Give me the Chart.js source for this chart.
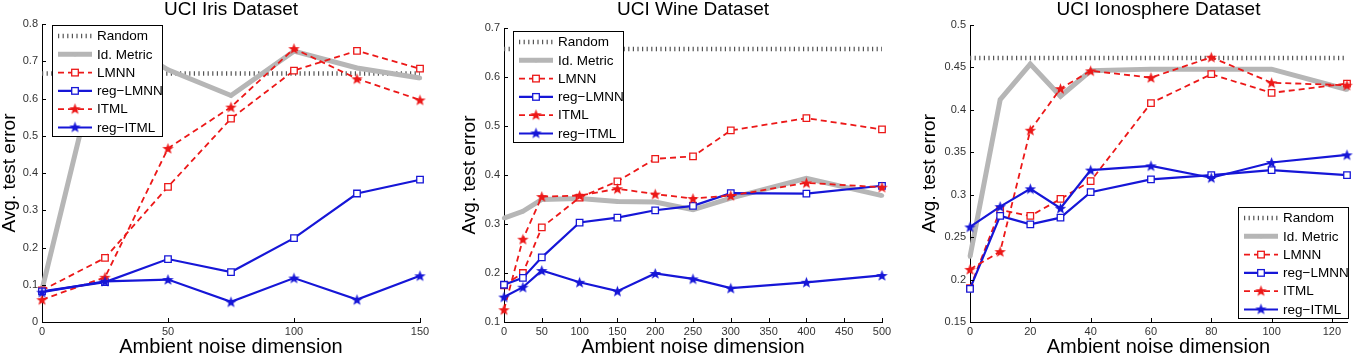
<!DOCTYPE html>
<html>
<head>
<meta charset="utf-8">
<script src="https://cdn.jsdelivr.net/npm/chart.js@4.4.1/dist/chart.umd.min.js"></script>
<style>
  body { margin: 0; background: #fff; width: 1354px; height: 357px; overflow: hidden; position: relative; }
  canvas { position: absolute; top: 0; }
</style>
</head>
<body>
<canvas id="iris" width="450" height="357" style="left:0px"></canvas>
<canvas id="wine" width="445" height="357" style="left:460px"></canvas>
<canvas id="iono" width="434" height="357" style="left:920px"></canvas>
<script>
// series names, same order in all three panels
var seriesNames = ['Random', 'Id. Metric', 'LMNN', 'reg\u2212LMNN', 'ITML', 'reg\u2212ITML'];

// UCI Iris
var irisX        = [0, 25, 50, 75, 100, 125, 150];
var irisRandom   = [0.667, 0.667, 0.667, 0.667, 0.667, 0.667, 0.667];
var irisIdMetric = [0.087, 0.78, 0.677, 0.608, 0.727, 0.682, 0.655];
var irisLMNN     = [0.085, 0.172, 0.363, 0.546, 0.675, 0.728, 0.68];
var irisRegLMNN  = [0.082, 0.107, 0.169, 0.134, 0.225, 0.345, 0.382];
var irisITML     = [0.06, 0.12, 0.466, 0.577, 0.734, 0.653, 0.596];
var irisRegITML  = [0.08, 0.109, 0.114, 0.054, 0.118, 0.06, 0.124];

// UCI Wine
var wineX        = [0, 25, 50, 100, 150, 200, 250, 300, 400, 500];
var wineRandom   = [0.657, 0.657, 0.657, 0.657, 0.657, 0.657, 0.657, 0.657, 0.657, 0.657];
var wineIdMetric = [0.312, 0.326, 0.35, 0.352, 0.346, 0.345, 0.329, 0.353, 0.393, 0.358];
var wineLMNN     = [0.175, 0.2, 0.293, 0.354, 0.387, 0.433, 0.438, 0.491, 0.516, 0.493];
var wineRegLMNN  = [0.176, 0.19, 0.232, 0.303, 0.313, 0.328, 0.337, 0.363, 0.362, 0.378];
var wineITML     = [0.125, 0.269, 0.356, 0.358, 0.372, 0.361, 0.352, 0.358, 0.384, 0.375];
var wineRegITML  = [0.151, 0.171, 0.205, 0.181, 0.163, 0.199, 0.188, 0.169, 0.181, 0.195];

// UCI Ionosphere
var ionoX        = [0, 10, 20, 30, 40, 60, 80, 100, 125];
var ionoRandom   = [0.461, 0.461, 0.461, 0.461, 0.461, 0.461, 0.461, 0.461, 0.461];
var ionoIdMetric = [0.227, 0.412, 0.454, 0.416, 0.446, 0.448, 0.448, 0.448, 0.424];
var ionoLMNN     = [0.19, 0.282, 0.275, 0.295, 0.316, 0.408, 0.442, 0.42, 0.431];
var ionoRegLMNN  = [0.189, 0.275, 0.265, 0.273, 0.303, 0.318, 0.323, 0.329, 0.323];
var ionoITML     = [0.212, 0.233, 0.376, 0.425, 0.446, 0.438, 0.462, 0.432, 0.429];
var ionoRegITML  = [0.262, 0.286, 0.307, 0.284, 0.329, 0.334, 0.32, 0.338, 0.347];
var ionoXTicks   = [0, 20, 40, 60, 80, 100, 120];

var FONT = "'Liberation Sans', Arial, Helvetica, sans-serif";
var RED = 'rgb(236,24,24)';
var BLUE = 'rgb(22,22,215)';
var GRAY = '#b6b6b6';

// filled five point star, used as point image
function makeStar(color) {
    var c = document.createElement('canvas');
    c.width = 13; c.height = 13;
    var g = c.getContext('2d');
    g.beginPath();
    for (var i = 0; i < 10; i++) {
        var r = (i % 2 === 0) ? 6 : 2.5;
        var a = -Math.PI / 2 + i * Math.PI / 5;
        var px = 6.5 + r * Math.cos(a), py = 7 + r * Math.sin(a);
        if (i === 0) g.moveTo(px, py); else g.lineTo(px, py);
    }
    g.closePath();
    g.fillStyle = color;
    g.fill();
    return c;
}
var redStar = makeStar(RED);
var blueStar = makeStar(BLUE);

// look of each series (same order as seriesNames)
var looks = [
    { color: '#555', width: 4.5, dash: [1.2, 3.4], point: false },
    { color: GRAY, width: 5, dash: [], point: 'circle', radius: 2.2 },
    { color: RED, width: 1.8, dash: [6, 4], point: 'rect', radius: 4.6 },
    { color: BLUE, width: 2.2, dash: [], point: 'rect', radius: 4.6 },
    { color: RED, width: 1.8, dash: [6, 4], point: redStar, radius: 6 },
    { color: BLUE, width: 2.2, dash: [], point: blueStar, radius: 6 }
];

// MATLAB style ticks pointing into the plot
var inwardTicks = {
    id: 'inwardTicks',
    afterDatasetsDraw: function(chart) {
        var ctx = chart.ctx, a = chart.chartArea;
        var xs = chart.scales.x, ys = chart.scales.y;
        ctx.save();
        ctx.strokeStyle = '#000';
        ctx.lineWidth = 1;
        ctx.beginPath();
        xs.ticks.forEach(function(t) {
            var px = Math.round(xs.getPixelForValue(t.value)) + 0.5;
            ctx.moveTo(px, a.bottom); ctx.lineTo(px, a.bottom - 4);
        });
        ys.ticks.forEach(function(t) {
            var py = Math.round(ys.getPixelForValue(t.value)) + 0.5;
            ctx.moveTo(a.left, py); ctx.lineTo(a.left + 4, py);
        });
        ctx.stroke();
        ctx.restore();
    }
};

// panel title centred over the plot area
var panelTitle = {
    id: 'panelTitle',
    afterDraw: function(chart, args, opts) {
        var ctx = chart.ctx, a = chart.chartArea;
        ctx.save();
        ctx.font = '19px ' + FONT;
        ctx.fillStyle = '#000';
        ctx.textAlign = 'center';
        ctx.textBaseline = 'middle';
        ctx.fillText(opts.text, (a.left + a.right) / 2, opts.y);
        ctx.restore();
    }
};

// boxed legend inside the plot, like the MATLAB one
var boxLegend = {
    id: 'boxLegend',
    afterDraw: function(chart, args, opts) {
        var ctx = chart.ctx;
        var x0 = opts.x, y0 = opts.y, w = 110, h = 111, rowH = 18.3;
        ctx.save();
        ctx.fillStyle = '#fff';
        ctx.fillRect(x0, y0, w, h);
        ctx.strokeStyle = '#000';
        ctx.lineWidth = 1;
        ctx.strokeRect(Math.round(x0) + 0.5, Math.round(y0) + 0.5, w, h);
        ctx.font = '13.5px ' + FONT;
        ctx.textBaseline = 'middle';
        chart.data.datasets.forEach(function(ds, i) {
            var lk = looks[i];
            var cy = y0 + 11 + i * rowH;
            var sx = x0 + 6, ex = x0 + 40, mx = (sx + ex) / 2;
            ctx.save();
            ctx.strokeStyle = lk.color;
            ctx.lineWidth = lk.width;
            ctx.setLineDash(lk.dash);
            ctx.beginPath();
            ctx.moveTo(sx, cy); ctx.lineTo(ex, cy);
            ctx.stroke();
            ctx.setLineDash([]);
            if (lk.point === 'rect') {
                ctx.lineWidth = 1.3;
                ctx.fillStyle = '#fff';
                ctx.fillRect(mx - 3.3, cy - 3.3, 6.6, 6.6);
                ctx.strokeRect(mx - 3.3, cy - 3.3, 6.6, 6.6);
            } else if (lk.point === 'circle') {
                ctx.fillStyle = lk.color;
                ctx.beginPath(); ctx.arc(mx, cy, 2.2, 0, Math.PI * 2); ctx.fill();
            } else if (lk.point) {
                ctx.drawImage(lk.point, mx - 6.5, cy - 7);
            }
            ctx.restore();
            ctx.fillStyle = '#000';
            ctx.fillText(ds.label, x0 + 45, cy + 0.5);
        });
        ctx.restore();
    }
};

function tickText(v) {
    return String(+v.toFixed(2));
}

function makeChart(id, xs, series, p) {
    var datasets = series.map(function(vals, i) {
        var lk = looks[i];
        return {
            label: seriesNames[i],
            data: xs.map(function(x, j) { return { x: x, y: vals[j] }; }),
            borderColor: lk.color,
            borderWidth: lk.width,
            borderDash: lk.dash,
            backgroundColor: lk.point === 'rect' ? '#fff' : lk.color,
            pointStyle: lk.point || 'circle',
            pointRadius: lk.point ? lk.radius : 0,
            pointBorderWidth: lk.point === 'rect' ? 1.3 : 0,
            pointBorderColor: lk.color,
            pointBackgroundColor: lk.point === 'rect' ? '#fff' : lk.color,
            tension: 0,
            fill: false,
            clip: false,
            order: 6 - i
        };
    });

    var xScale = {
        type: 'linear',
        min: p.xMin, max: p.xMax,
        grid: { display: false, drawTicks: false },
        border: { display: true, color: '#000', width: 1 },
        ticks: { stepSize: p.xStep, color: '#333', padding: 3, maxRotation: 0,
                 font: { size: 11, family: FONT }, callback: tickText },
        title: { display: true, text: 'Ambient noise dimension', color: '#000',
                 font: { size: 20, family: FONT, lineHeight: 1 }, padding: 0 },
        afterFit: function(s) { s.height = 35; }
    };
    if (p.xTicks) {
        xScale.afterBuildTicks = function(s) {
            s.ticks = p.xTicks.map(function(v) { return { value: v }; });
        };
    }

    return new Chart(document.getElementById(id), {
        type: 'line',
        data: { datasets: datasets },
        options: {
            responsive: false,
            animation: false,
            layout: { padding: { top: p.top, right: p.right, left: 0, bottom: 0 } },
            scales: {
                x: xScale,
                y: {
                    type: 'linear',
                    min: p.yMin, max: p.yMax,
                    grid: { display: false, drawTicks: false },
                    border: { display: true, color: '#000', width: 1 },
                    ticks: { stepSize: p.yStep, color: '#333', padding: 4,
                             font: { size: 11, family: FONT }, callback: tickText },
                    title: { display: true, text: 'Avg. test error', color: '#000',
                             font: { size: 19, family: FONT, lineHeight: 1 }, padding: 0 },
                    afterFit: function(s) { s.width = p.yWidth; }
                }
            },
            plugins: {
                legend: { display: false },
                tooltip: { enabled: false },
                panelTitle: { text: p.title, y: 10 },
                boxLegend: { x: p.legendX, y: p.legendY }
            }
        },
        plugins: [inwardTicks, panelTitle, boxLegend]
    });
}

makeChart('iris', irisX,
    [irisRandom, irisIdMetric, irisLMNN, irisRegLMNN, irisITML, irisRegITML],
    { title: 'UCI Iris Dataset', xMin: 0, xMax: 150, xStep: 50, yMin: 0, yMax: 0.8, yStep: 0.1,
      top: 24, right: 30, yWidth: 42, legendX: 52, legendY: 25 });

makeChart('wine', wineX,
    [wineRandom, wineIdMetric, wineLMNN, wineRegLMNN, wineITML, wineRegITML],
    { title: 'UCI Wine Dataset', xMin: 0, xMax: 500, xStep: 50, yMin: 0.1, yMax: 0.7, yStep: 0.1,
      top: 28, right: 23, yWidth: 44, legendX: 53, legendY: 31 });

makeChart('iono', ionoX,
    [ionoRandom, ionoIdMetric, ionoLMNN, ionoRegLMNN, ionoITML, ionoRegITML],
    { title: 'UCI Ionosphere Dataset', xMin: 0, xMax: 125, xTicks: ionoXTicks, yMin: 0.15, yMax: 0.5, yStep: 0.05,
      top: 25, right: 7, yWidth: 50, legendX: 318, legendY: 207 });
</script>
</body>
</html>
